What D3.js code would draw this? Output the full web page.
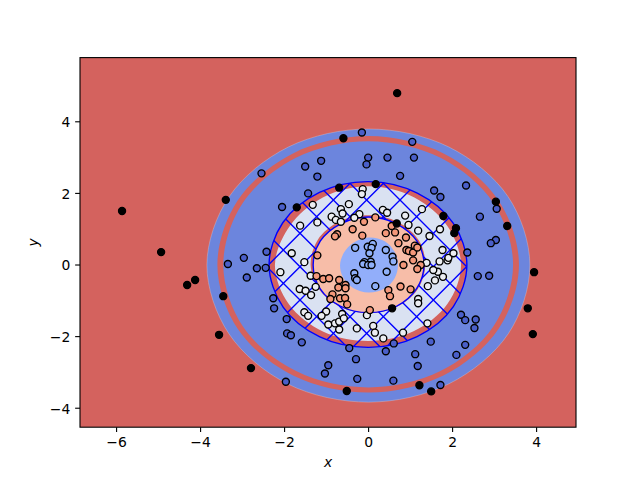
<!DOCTYPE html>
<html>
<head>
<meta charset="utf-8">
<script src="https://cdn.jsdelivr.net/npm/d3@7"></script>
<style>
  html, body { margin: 0; padding: 0; background: #fff; }
</style>
</head>
<body>
<div id="chart"></div>
<script>
// axis ranges and ticks
var xDomain = [-6.871, 4.938];
var yDomain = [-4.53, 5.793];
var xTicks = [-6, -4, -2, 0, 2, 4];
var yTicks = [-4, -2, 0, 2, 4];

// directions (degrees) the contour radii below were read along
var ringAngles = [0, 30, 60, 90, 120, 150, 180, 210, 240, 270, 300, 330];
var outerEdge = [3.84, 3.83, 3.81, 3.80, 3.81, 3.83, 3.85, 3.84, 3.84, 3.83, 3.83, 3.84];
var redOuter = [3.58, 3.58, 3.59, 3.60, 3.60, 3.60, 3.60, 3.59, 3.57, 3.56, 3.56, 3.57];
var redInner = [3.44, 3.44, 3.45, 3.46, 3.46, 3.46, 3.46, 3.45, 3.43, 3.42, 3.42, 3.43];
var hatchOuter = [2.34, 2.33, 2.32, 2.33, 2.34, 2.36, 2.37, 2.35, 2.32, 2.30, 2.31, 2.33];
var bandInner = [2.20, 2.17, 2.18, 2.20, 2.18, 2.17, 2.23, 2.19, 2.15, 2.12, 2.14, 2.17];
var rimOuter = [1.35, 1.38, 1.39, 1.39, 1.40, 1.40, 1.38, 1.36, 1.35, 1.35, 1.35, 1.35];
var hatchInner = [1.32, 1.33, 1.33, 1.34, 1.33, 1.33, 1.32, 1.33, 1.33, 1.33, 1.33, 1.32];
var discEdge = [0.70, 0.72, 0.77, 0.77, 0.72, 0.68, 0.68, 0.70, 0.74, 0.77, 0.76, 0.72];

// points outside the contours (black)
var blackPoints = [[-5.87, 1.51], [-4.94, 0.36], [-4.13, -0.42], [-4.32, -0.56], [-3.40, 1.82],
  [-3.46, -0.87], [-3.56, -1.95], [-2.80, -2.88], [-0.52, -3.52], [-0.60, 3.54], [-1.71, 1.61],
  [-0.70, 2.16], [0.68, 4.80], [0.17, 2.26], [0.67, 1.16], [1.78, 1.37], [2.08, 1.03], [2.04, 0.89],
  [3.03, 1.77], [3.30, 1.09], [0.56, -1.21], [1.21, -3.36], [1.49, -3.53], [3.79, -1.21],
  [3.94, -0.20], [3.91, -1.93]];

// points in the wide blue ring
var bluePoints = [[-0.16, 3.70], [-2.55, 2.56], [-1.51, 2.75], [-1.13, 2.91], [-1.22, 2.47],
  [-0.01, 3.00], [-0.05, 2.81], [-1.44, 2.00], [-2.06, 1.62], [-2.43, 0.37], [-2.97, 0.20],
  [-3.35, 0.03], [-2.66, -0.09], [-2.45, -0.08], [-2.90, -0.35], [-2.27, -0.93], [-2.25, -1.21],
  [-1.95, -1.51], [-1.94, -1.91], [-1.85, -1.96], [-1.59, -2.16], [-0.96, -2.80], [-1.04, -3.03],
  [-0.30, -2.63], [-0.27, -3.18], [-1.97, -3.26], [-0.46, -2.32], [1.04, 3.44], [0.45, 3.00],
  [1.08, 3.00], [0.75, 2.49], [1.56, 2.08], [1.71, 1.90], [2.32, 2.22], [2.65, 1.35], [3.05, 1.57],
  [3.03, 0.70], [2.91, 0.61], [2.35, 0.35], [2.60, -0.31], [2.87, -0.30], [2.20, -1.39],
  [2.30, -1.54], [2.55, -1.52], [2.52, -1.76], [2.30, -2.23], [2.09, -2.51], [1.48, -2.14],
  [1.11, -2.49], [1.17, -2.82], [0.59, -3.23], [1.71, -3.35], [0.41, -2.41], [0.60, -2.19]];

// points in the hatched ring
var palePoints = [[-1.33, 1.68], [-1.63, 1.10], [-1.22, 1.19], [-0.66, 1.56], [-0.47, 1.70],
  [-0.62, 1.44], [-0.88, 1.35], [-0.78, 1.26], [-0.66, 1.21], [-0.22, 1.42], [-0.34, 1.32],
  [-0.14, 2.12], [-0.16, 1.98], [-1.83, 0.33], [-1.53, 0.08], [-2.10, -0.20], [-1.64, -0.67],
  [-1.50, -0.72], [-1.37, -0.84], [-1.26, -0.61], [-1.53, -1.32], [-1.44, -1.42], [-1.01, -1.30],
  [-1.12, -1.42], [-0.96, -1.66], [-0.80, -1.63], [-0.70, -1.58], [-0.63, -1.37], [-0.59, -1.49],
  [-0.70, -1.80], [-0.28, -1.77], [-0.04, -1.40], [0.11, -1.70], [0.15, -1.89], [0.35, -2.05],
  [0.82, -1.89], [1.40, -1.63], [1.18, -0.95], [1.18, -1.07], [1.41, -0.59], [1.58, -0.43],
  [1.77, -0.33], [1.65, -0.19], [1.54, -0.14], [1.88, 0.13], [1.69, 0.10], [1.38, 0.06],
  [0.34, 1.54], [0.44, 1.46], [0.87, 1.38], [1.27, 1.56], [0.95, 1.12], [1.18, 0.96], [1.45, 0.81],
  [1.70, 1.00], [1.76, 0.42], [1.90, 0.20], [2.02, 0.33], [-1.38, -0.30]];

// points in the salmon ring
var salmonPoints = [[-0.38, 1.00], [-0.11, 1.21], [-0.15, 0.82], [-0.75, 0.86], [-0.80, 0.80],
  [-1.22, 0.27], [0.16, 1.33], [0.55, 1.09], [0.63, 0.91], [0.41, 0.89], [0.89, 0.77], [0.71, 0.61],
  [0.90, 0.42], [0.96, 0.39], [1.06, 0.35], [1.10, 0.54], [1.16, 0.49], [0.83, 0.00], [1.06, 0.13],
  [1.24, 0.00], [1.16, -0.11], [0.76, -0.60], [0.47, -0.70], [0.51, -0.87], [1.00, -0.68],
  [0.03, -1.26], [-1.24, -0.31], [-1.08, -0.39], [-0.94, -0.37], [-0.70, -0.42], [-0.72, -0.63],
  [-0.55, -0.56], [-0.55, -0.65], [-0.86, -0.82], [-0.91, -0.95], [-0.68, -0.93], [-0.56, -0.92],
  [-0.51, -1.10]];

// points in the centre disc
var centerPoints = [[-0.32, 0.48], [-0.02, 0.51], [0.10, 0.59], [0.07, 0.48], [0.02, 0.33],
  [0.05, 0.09], [-0.10, 0.08], [0.41, 0.42], [0.57, 0.23], [0.59, 0.10], [-0.13, 0.03],
  [-0.01, 0.00], [-0.34, -0.23], [-0.32, -0.37], [-0.28, -0.42], [0.16, -0.59], [0.07, 0.00],
  [0.43, -0.19]];

// sets chart bounds, same figure layout as the reference
var svgWidth = 640;
var svgHeight = 480;
var margin = { top: 57.6, right: 64, bottom: 52.8, left: 80 };
var width = svgWidth - margin.left - margin.right;
var height = svgHeight - margin.top - margin.bottom;

var svg = d3.select("#chart")
  .append("svg")
  .attr("width", svgWidth)
  .attr("height", svgHeight)
  .style("display", "block");

// hatch pattern, a 100px tile with lines on x-y and x+y multiples of 33.33px
var hatchTile = 100;
var hatchSteps = d3.range(-3, 7).map(k => k * 100 / 3);
var pattern = svg.append("defs").append("pattern")
  .attr("id", "crossHatch")
  .attr("patternUnits", "userSpaceOnUse")
  .attr("width", hatchTile)
  .attr("height", hatchTile);
pattern.selectAll("path")
  .data(hatchSteps)
  .enter()
  .append("path")
  .attr("d", c => `M${c - 10},-10L${c + hatchTile + 10},${hatchTile + 10}M${c + 10},-10L${c - hatchTile - 10},${hatchTile + 10}`)
  .attr("stroke", "#0000ff")
  .attr("stroke-width", 1.39)
  .attr("fill", "none");

var xScale = d3.scaleLinear().domain(xDomain).range([margin.left, margin.left + width]);
var yScale = d3.scaleLinear().domain(yDomain).range([margin.top + height, margin.top]);

// turns one radii list into a closed path
var ringLine = d3.line()
  .x(d => xScale(d.r * Math.cos(d.a)))
  .y(d => yScale(d.r * Math.sin(d.a)))
  .curve(d3.curveCatmullRomClosed.alpha(0.5));

function ringPath(radii) {
  return ringLine(radii.map((r, i) => ({ r: r, a: ringAngles[i] * Math.PI / 180 })));
}

svg.append("clipPath").attr("id", "plotClip")
  .append("rect")
  .attr("x", margin.left).attr("y", margin.top)
  .attr("width", width).attr("height", height);

var plot = svg.append("g").attr("clip-path", "url(#plotClip)");

// filled contours, painted from the outside in
plot.append("rect")
  .attr("x", margin.left).attr("y", margin.top)
  .attr("width", width).attr("height", height)
  .attr("fill", "#d4625e");

plot.append("path").attr("d", ringPath(outerEdge))
  .attr("fill", "#6c85dd").attr("stroke", "#eadcdc").attr("stroke-width", 0.6).attr("stroke-opacity", 0.5);
plot.append("path").attr("d", ringPath(redOuter)).attr("fill", "#d4625e");
plot.append("path").attr("d", ringPath(redInner)).attr("fill", "#6c85dd");
plot.append("path").attr("d", ringPath(hatchOuter)).attr("fill", "#d4625e");
plot.append("path").attr("d", ringPath(bandInner)).attr("fill", "#dae2f2");
plot.append("path").attr("d", ringPath(rimOuter)).attr("fill", "#d4625e");
plot.append("path").attr("d", ringPath(hatchInner)).attr("fill", "#f7bda8");
plot.append("path").attr("d", ringPath(discEdge)).attr("fill", "#92aefa");

// hatched band with its blue edges
plot.append("path")
  .attr("d", ringPath(hatchOuter) + ringPath(hatchInner))
  .attr("fill", "url(#crossHatch)")
  .attr("fill-rule", "evenodd")
  .attr("stroke", "#0000ff")
  .attr("stroke-width", 1.39);

// scatter points, one group per class
function drawPoints(points, fill) {
  plot.append("g").selectAll("circle")
    .data(points)
    .enter()
    .append("circle")
    .attr("cx", d => xScale(d[0]))
    .attr("cy", d => yScale(d[1]))
    .attr("r", 3.5)
    .attr("fill", fill)
    .attr("stroke", "#000")
    .attr("stroke-width", 1.39);
}

drawPoints(bluePoints, "#4a5fc9");
drawPoints(palePoints, "#eceef2");
drawPoints(salmonPoints, "#f4987a");
drawPoints(centerPoints, "#8fb0f9");
drawPoints(blackPoints, "#000");

// axes
var bottomAxis = d3.axisBottom(xScale).tickValues(xTicks).tickSize(4.86).tickPadding(4.86).tickSizeOuter(0).offset(0);
var leftAxis = d3.axisLeft(yScale).tickValues(yTicks).tickSize(4.86).tickPadding(4.86).tickSizeOuter(0).offset(0);

var xAxis = svg.append("g")
  .attr("transform", `translate(0, ${margin.top + height})`)
  .call(bottomAxis);
var yAxis = svg.append("g")
  .attr("transform", `translate(${margin.left}, 0)`)
  .call(leftAxis);

[xAxis, yAxis].forEach(function(axis) {
  axis.attr("font-family", "'DejaVu Sans'").attr("font-size", 13.89);
  axis.selectAll("line").attr("stroke", "#000").attr("stroke-width", 1.11);
  axis.selectAll("text").attr("fill", "#000");
  axis.select(".domain").remove();
});
yAxis.selectAll("text").attr("dy", "0.38em");

// frame around the plot
svg.append("rect")
  .attr("x", margin.left).attr("y", margin.top)
  .attr("width", width).attr("height", height)
  .attr("fill", "none")
  .attr("stroke", "#000")
  .attr("stroke-width", 1.11);

// axis labels
svg.append("text")
  .attr("x", margin.left + width / 2)
  .attr("y", 467)
  .attr("text-anchor", "middle")
  .attr("font-family", "'DejaVu Sans'")
  .attr("font-style", "italic")
  .attr("font-size", 13.89)
  .text("x");

svg.append("text")
  .attr("transform", `translate(38, ${margin.top + height / 2}) rotate(-90)`)
  .attr("text-anchor", "middle")
  .attr("font-family", "'DejaVu Sans'")
  .attr("font-style", "italic")
  .attr("font-size", 13.89)
  .text("y");
</script>
</body>
</html>
